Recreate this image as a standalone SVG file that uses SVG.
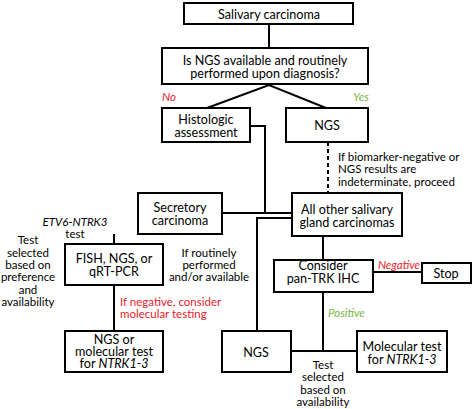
<svg xmlns="http://www.w3.org/2000/svg" width="474" height="409" viewBox="0 0 474 409">
<style>
.box{fill:#fff;stroke:#000;stroke-width:2}
.ln{fill:none;stroke:#000;stroke-width:2}
text{font-family:Lato,"Open Sans",sans-serif;font-size:12.6px;fill:#000;text-anchor:middle;dominant-baseline:central}
.s{font-size:11.5px}
.red{fill:#e8222a}
.grn{fill:#7ab648}
.it{font-style:italic}
.l{text-anchor:start}
</style>
<rect width="474" height="409" fill="#fff"/>
<g id="connectors">
<line class="ln" x1="269" y1="24" x2="269" y2="48"/>
<polyline class="ln" points="207,108 269,85 326,108"/>
<polyline class="ln" points="250,126 265,126 265,213"/>
<line class="ln" x1="222" y1="213" x2="292" y2="213"/>
<line class="ln" x1="328" y1="142" x2="328" y2="193" stroke-dasharray="4,3"/>
<polyline class="ln" points="292,218 257,218 257,331"/>
<line class="ln" x1="114" y1="234" x2="114" y2="244"/>
<line class="ln" x1="114" y1="285" x2="114" y2="331"/>
<line class="ln" x1="323" y1="236" x2="323" y2="260"/>
<line class="ln" x1="373" y1="272" x2="422" y2="272"/>
<line class="ln" x1="323" y1="292" x2="323" y2="351"/>
<line class="ln" x1="291" y1="351" x2="357" y2="351"/>
</g>
<g id="n-salivary"><rect class="box" x="184" y="3" width="169" height="21"/><text x="269" y="14">Salivary carcinoma</text></g>
<g id="n-question"><rect class="box" x="162" y="48" width="206" height="36"/><text x="265" y="60">Is NGS available and routinely</text><text x="265" y="73">performed upon diagnosis?</text></g>
<g id="n-histologic"><rect class="box" x="162" y="108" width="88" height="34"/><text x="206" y="119">Histologic</text><text x="206" y="132">assessment</text></g>
<g id="n-ngs1"><rect class="box" x="286" y="108" width="82" height="34"/><text x="327" y="125">NGS</text></g>
<g id="n-secretory"><rect class="box" x="138" y="193" width="84" height="41"/><text x="180" y="207">Secretory</text><text x="180" y="220">carcinoma</text></g>
<g id="n-allother"><rect class="box" x="292" y="193" width="110" height="43"/><text x="347" y="209">All other salivary</text><text x="347" y="222">gland carcinomas</text></g>
<g id="n-fish"><rect class="box" x="65" y="244" width="98" height="41"/><text x="114" y="258">FISH, NGS, or</text><text x="114" y="271">qRT-PCR</text></g>
<g id="n-ngsor"><rect class="box" x="65" y="331" width="98" height="41"/><text x="114" y="339">NGS or</text><text x="114" y="351">molecular test</text><text x="114" y="363">for <tspan class="it">NTRK1-3</tspan></text></g>
<g id="n-consider"><rect class="box" x="274" y="260" width="99" height="32"/><text x="323" y="265">Consider</text><text x="323" y="278">pan-TRK IHC</text></g>
<g id="n-stop"><rect class="box" x="422" y="263" width="49" height="20"/><text x="446" y="273">Stop</text></g>
<g id="n-ngs2"><rect class="box" x="222" y="331" width="69" height="41"/><text x="256" y="352">NGS</text></g>
<g id="n-molecular"><rect class="box" x="357" y="331" width="90" height="41"/><text x="402" y="346">Molecular test</text><text x="402" y="359">for <tspan class="it">NTRK1-3</tspan></text></g>
<g id="labels">
<text class="s red it l" x="162" y="96">No</text>
<text class="s grn it" x="361" y="96">Yes</text>
<text class="s l" x="338" y="156">If biomarker-negative or</text>
<text class="s l" x="338" y="168">NGS results are</text>
<text class="s l" x="338" y="181">indeterminate, proceed</text>
<text class="s it" x="75" y="221">ETV6-NTRK3</text>
<text class="s" x="75" y="233">test</text>
<text class="s" x="28" y="239">Test</text>
<text class="s" x="28" y="252">selected</text>
<text class="s" x="28" y="264">based on</text>
<text class="s" x="28" y="276">preference</text>
<text class="s" x="28" y="289">and</text>
<text class="s" x="28" y="301">availability</text>
<text class="s" x="209" y="252">If routinely</text>
<text class="s" x="209" y="264">performed</text>
<text class="s" x="209" y="276">and/or available</text>
<text class="s red l" x="120" y="301">If negative, consider</text>
<text class="s red l" x="120" y="313">molecular testing</text>
<text class="s red it" x="399" y="264">Negative</text>
<text class="s grn it l" x="328" y="312">Positive</text>
<text class="s" x="323" y="364">Test</text>
<text class="s" x="323" y="376">selected</text>
<text class="s" x="323" y="389">based on</text>
<text class="s" x="323" y="401">availability</text>
</g>
</svg>
